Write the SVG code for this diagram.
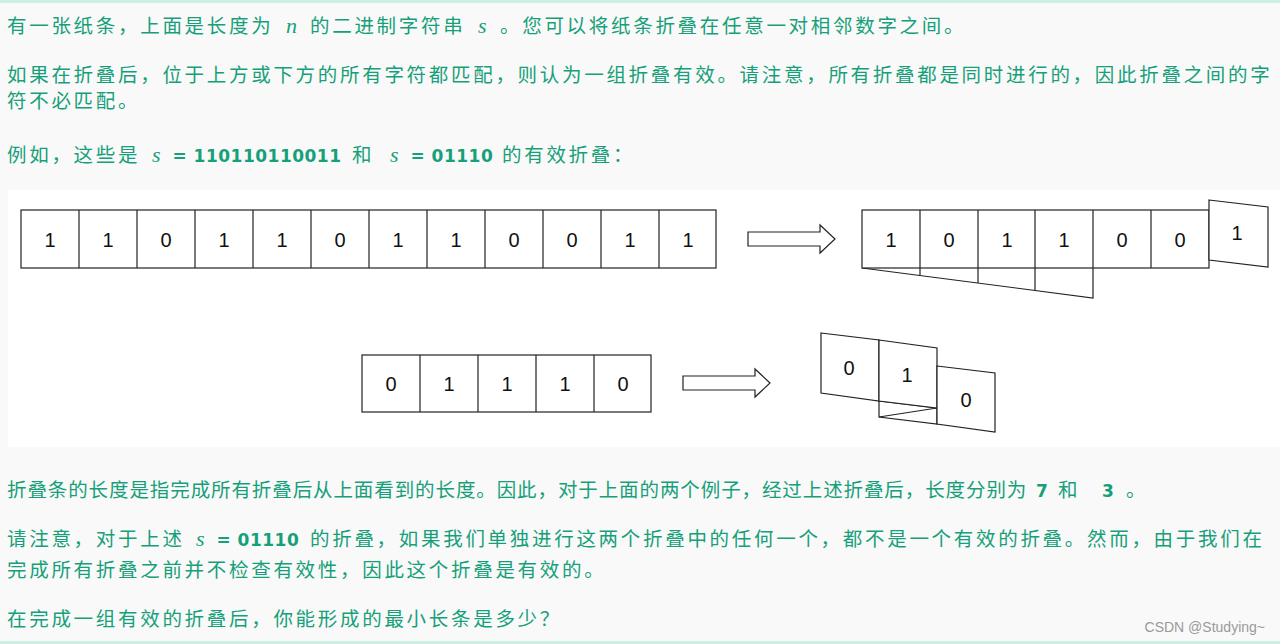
<svg xmlns="http://www.w3.org/2000/svg" width="1280" height="644" viewBox="0 0 1280 644">
<style>
.t{font-family:"Noto Sans CJK SC","Noto Sans",sans-serif;font-size:19.5px;letter-spacing:2.7px;fill:#16a07a}
.m{font-family:"Liberation Serif",serif;font-style:italic;font-size:22px;letter-spacing:0}
.b{font-family:"DejaVu Sans","Liberation Sans",sans-serif;font-weight:bold;font-size:17px;letter-spacing:0.5px}
.c{fill:#fff;stroke:#222;stroke-width:1.2}
.l{fill:none;stroke:#222;stroke-width:1.2}
.d{font-family:"Liberation Sans",Arial,sans-serif;font-size:20px;fill:#111;text-anchor:middle}
</style>
<rect width="1280" height="644" fill="#f9f9f9"/>
<rect width="1280" height="3" fill="#cdeee2"/>
<rect y="641" width="1280" height="3" fill="#cdeee2"/>
<rect x="8" y="190" width="1272" height="257" fill="#fff"/>
<g id="text">
<text class="t" x="7" y="33">有一张纸条，上面是长度为<tspan class="m" x="286">n</tspan><tspan x="310">的二进制字符串</tspan><tspan class="m" x="478">s</tspan><tspan x="500">。您可以将纸条折叠在任意一对相邻数字之间。</tspan></text>
<text class="t" x="7" y="82">如果在折叠后，位于上方或下方的所有字符都匹配，则认为一组折叠有效。请注意，所有折叠都是同时进行的，因此折叠之间的字</text>
<text class="t" x="7" y="108">符不必匹配。</text>
<text class="t" x="7" y="162">例如，这些是<tspan class="m" x="152">s</tspan><tspan class="b" x="166"> = 110110110011</tspan><tspan x="352">和</tspan><tspan class="m" x="390">s</tspan><tspan class="b" x="404"> = 01110</tspan><tspan x="502">的有效折叠：</tspan></text>
<text class="t" x="7" y="497" textLength="1022" lengthAdjust="spacing">折叠条的长度是指完成所有折叠后从上面看到的长度。因此，对于上面的两个例子，经过上述折叠后，长度分别为</text>
<text class="t" y="497"><tspan class="b" x="1036">7</tspan><tspan x="1058">和</tspan><tspan class="b" x="1102">3</tspan><tspan x="1126">。</tspan></text>
<text class="t" x="7" y="546">请注意，对于上述<tspan class="m" x="196">s</tspan><tspan class="b" x="210"> = 01110</tspan><tspan x="310">的折叠，如果我们单独进行这两个折叠中的任何一个，都不是一个有效的折叠。然而，由于我们在</tspan></text>
<text class="t" x="7" y="577">完成所有折叠之前并不检查有效性，因此这个折叠是有效的。</text>
<text class="t" x="7" y="626">在完成一组有效的折叠后，你能形成的最小长条是多少？</text>
<text x="1265" y="632" text-anchor="end" style="font-family:'Liberation Sans',sans-serif;font-size:14px;fill:#999">CSDN @Studying~</text>
</g>
<g id="strip1">
<rect class="c" x="21" y="210" width="695" height="58"/>
<path class="l" d="M79 210V268M137 210V268M195 210V268M253 210V268M311 210V268M369 210V268M427 210V268M485 210V268M543 210V268M601 210V268M659 210V268"/>
<text class="d" y="247"><tspan x="50">1</tspan><tspan x="108">1</tspan><tspan x="166">0</tspan><tspan x="224">1</tspan><tspan x="282">1</tspan><tspan x="340">0</tspan><tspan x="398">1</tspan><tspan x="456">1</tspan><tspan x="514">0</tspan><tspan x="572">0</tspan><tspan x="630">1</tspan><tspan x="688">1</tspan></text>
</g>
<g id="folded1">
<path class="l" d="M862 268L1093 298V268M920 268V276M978 268V283M1035 268V290"/>
<rect class="c" x="862" y="210" width="347" height="58"/>
<path class="l" d="M920 210V268M978 210V268M1035 210V268M1093 210V268M1151 210V268"/>
<polygon class="c" points="1209,200 1268,207 1268,267 1209,260"/>
<text class="d" y="247"><tspan x="891">1</tspan><tspan x="949">0</tspan><tspan x="1007">1</tspan><tspan x="1064">1</tspan><tspan x="1122">0</tspan><tspan x="1180">0</tspan></text>
<text class="d" x="1237" y="240">1</text>
</g>
<g id="strip2">
<rect class="c" x="362" y="355" width="289" height="57"/>
<path class="l" d="M420 355V412M478 355V412M536 355V412M594 355V412"/>
<text class="d" y="391"><tspan x="391">0</tspan><tspan x="449">1</tspan><tspan x="507">1</tspan><tspan x="565">1</tspan><tspan x="623">0</tspan></text>
</g>
<g id="folded2">
<polygon class="c" points="879,401 937,408 937,424 879,417"/>
<path class="l" d="M879 417L937 408"/>
<polygon class="c" points="821,333 879,340 879,401 821,393"/>
<polygon class="c" points="879,340 937,348 937,408 879,401"/>
<polygon class="c" points="937,366 995,373 995,432 937,424"/>
<text class="d" x="849" y="375">0</text>
<text class="d" x="907" y="382">1</text>
<text class="d" x="966" y="407">0</text>
</g>
<g id="connectors">
<polygon class="c" points="748,232 820,232 820,225 835,239 820,253 820,246 748,246"/>
<polygon class="c" points="683,376 755,376 755,369 770,383 755,397 755,390 683,390"/>
</g>
</svg>
